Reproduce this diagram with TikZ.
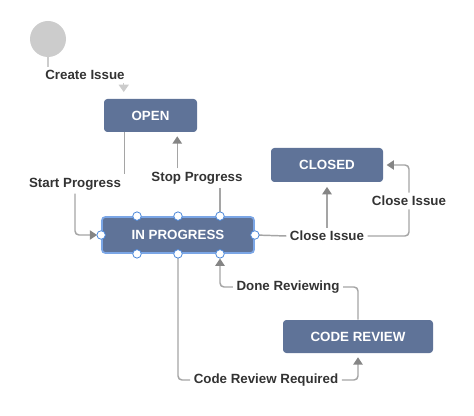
\documentclass[tikz,border=0pt]{standalone}
\usepackage{fontspec}
\setmainfont{Liberation Sans}
\usetikzlibrary{arrows.meta,calc}
\definecolor{wfBox}{HTML}{5F7398}
\definecolor{wfLine}{HTML}{A5A5A5}
\definecolor{wfTip}{HTML}{858585}
\definecolor{wfText}{HTML}{333333}
\definecolor{wfStart}{HTML}{CCCCCC}
\definecolor{wfSel}{HTML}{7BA6E6}
\definecolor{wfHandle}{HTML}{4C88DA}
\tikzset{
  % Workflow status: filled slate box, white caps.
  wf/state/.style={
    draw=none, fill=wfBox, rounded corners=2.5pt, text=white,
    font=\fontsize{10}{12}\selectfont\bfseries, minimum height=24.75pt, inner sep=2pt
  },
  % The status that is selected on the canvas.
  wf/sel/.style={
    wf/state, draw=wfSel, line width=1.3pt
  },
  % Small grab points round the selected status.
  wf/handle/.style={
    circle, draw=wfHandle, fill=white, line width=0.6pt, minimum size=6.4pt, inner sep=0pt
  },
  wf/start/.style={
    circle, fill=wfStart, minimum size=27pt, inner sep=0pt
  },
  % Transition names.
  wf/lbl/.style={
    font=\fontsize{10}{12}\selectfont\bfseries, text=wfText, inner sep=2.5pt
  },
  wf/line/.style={
    draw=wfLine, line width=1.1pt
  },
  wf/arrow/.style={
    wf/line, -{Triangle[length=5.5pt,width=7pt,color=wfTip]}
  },
  wf/pale/.style={
    draw=wfStart, line width=1.1pt
  },
}

\begin{document}
\begin{tikzpicture}[x=0.75pt,y=-0.75pt,
  paleArrow/.style={wf/pale, -{Triangle[length=5.5pt,width=7.5pt,color=wfStart]}}]
  \useasboundingbox (0,0) rectangle (474,416);

  \node[wf/start] (init) at (48,39) {};
  \node[wf/lbl] (lCreate) at (85,75) {Create Issue};

  \node[wf/state, minimum width=69.75pt] (open) at (150.5,115.5) {OPEN};
  \node[wf/sel, minimum width=114pt, minimum height=27pt] (prog) at (178,235) {IN PROGRESS};
  \node[wf/state, minimum width=84pt, minimum height=25.5pt] (closed) at (327,165) {CLOSED};
  \node[wf/state, minimum width=112.5pt] (review) at (358,336.5) {CODE REVIEW};

  \node[wf/lbl] (lStart) at (75,184) {Start Progress};
  \node[wf/lbl] (lStop) at (197,178) {Stop Progress};
  \node[wf/lbl] (lClose) at (327,236) {Close Issue};
  \node[wf/lbl] (lCloseB) at (409,201) {Close Issue};
  \node[wf/lbl] (lDone) at (288,287) {Done Reviewing};
  \node[wf/lbl] (lReq) at (266,380) {Code Review Required};

  \coordinate (oIn) at ($(open.north west)+(20,0)$);
  \coordinate (oStart) at ($(open.south west)+(21,0)$);
  \coordinate (oStop) at ($(open.south east)+(-20,0)$);

  % handles of the selected status
  \foreach \dx [count=\i] in {-41,0,42} {
    \coordinate (hn\i) at ($(prog.north)+(\dx,0)$);
    \coordinate (hs\i) at ($(prog.south)+(\dx,0)$);
  }

  % transitions
  \draw[wf/pale] (init.south) -- (init.south |- lCreate.north);
  \draw[paleArrow, shorten >=5pt] (oIn |- lCreate.south) -- (oIn);

  \draw[wf/line] (oStart) -- (oStart |- lStart.north);
  \draw[wf/arrow, rounded corners=3pt, shorten >=3pt] (lStart.south) |- (prog.west);

  \draw[wf/line] (hn3) -- (hn3 |- lStop.south);
  \draw[wf/arrow, shorten >=3pt] (lStop.north -| oStop) -- (oStop);

  \draw[wf/line] (prog.east) -- (lClose.west);
  \draw[wf/arrow, shorten >=3.5pt] (lClose.north) -- (closed.south);
  \draw[wf/line, rounded corners=3pt] (lClose.east) -| (lCloseB.south);
  \draw[wf/arrow, rounded corners=3pt, shorten >=2.5pt] (lCloseB.north) |- (closed.east);

  \draw[wf/line, rounded corners=3pt] (review.north) |- (lDone.east);
  \draw[wf/arrow, rounded corners=3pt, shorten >=3.5pt] (lDone.west) -| (hs3);

  \draw[wf/line, rounded corners=3pt] (hs2) |- (lReq.west);
  \draw[wf/arrow, rounded corners=3pt, shorten >=3pt] (lReq.east) -| (review.south);

  \foreach \i in {1,2,3} {
    \node[wf/handle] (gn\i) at (hn\i) {};
    \node[wf/handle] (gs\i) at (hs\i) {};
  }
  \node[wf/handle] (gw) at (prog.west) {};
  \node[wf/handle] (ge) at (prog.east) {};
\end{tikzpicture}
\end{document}
